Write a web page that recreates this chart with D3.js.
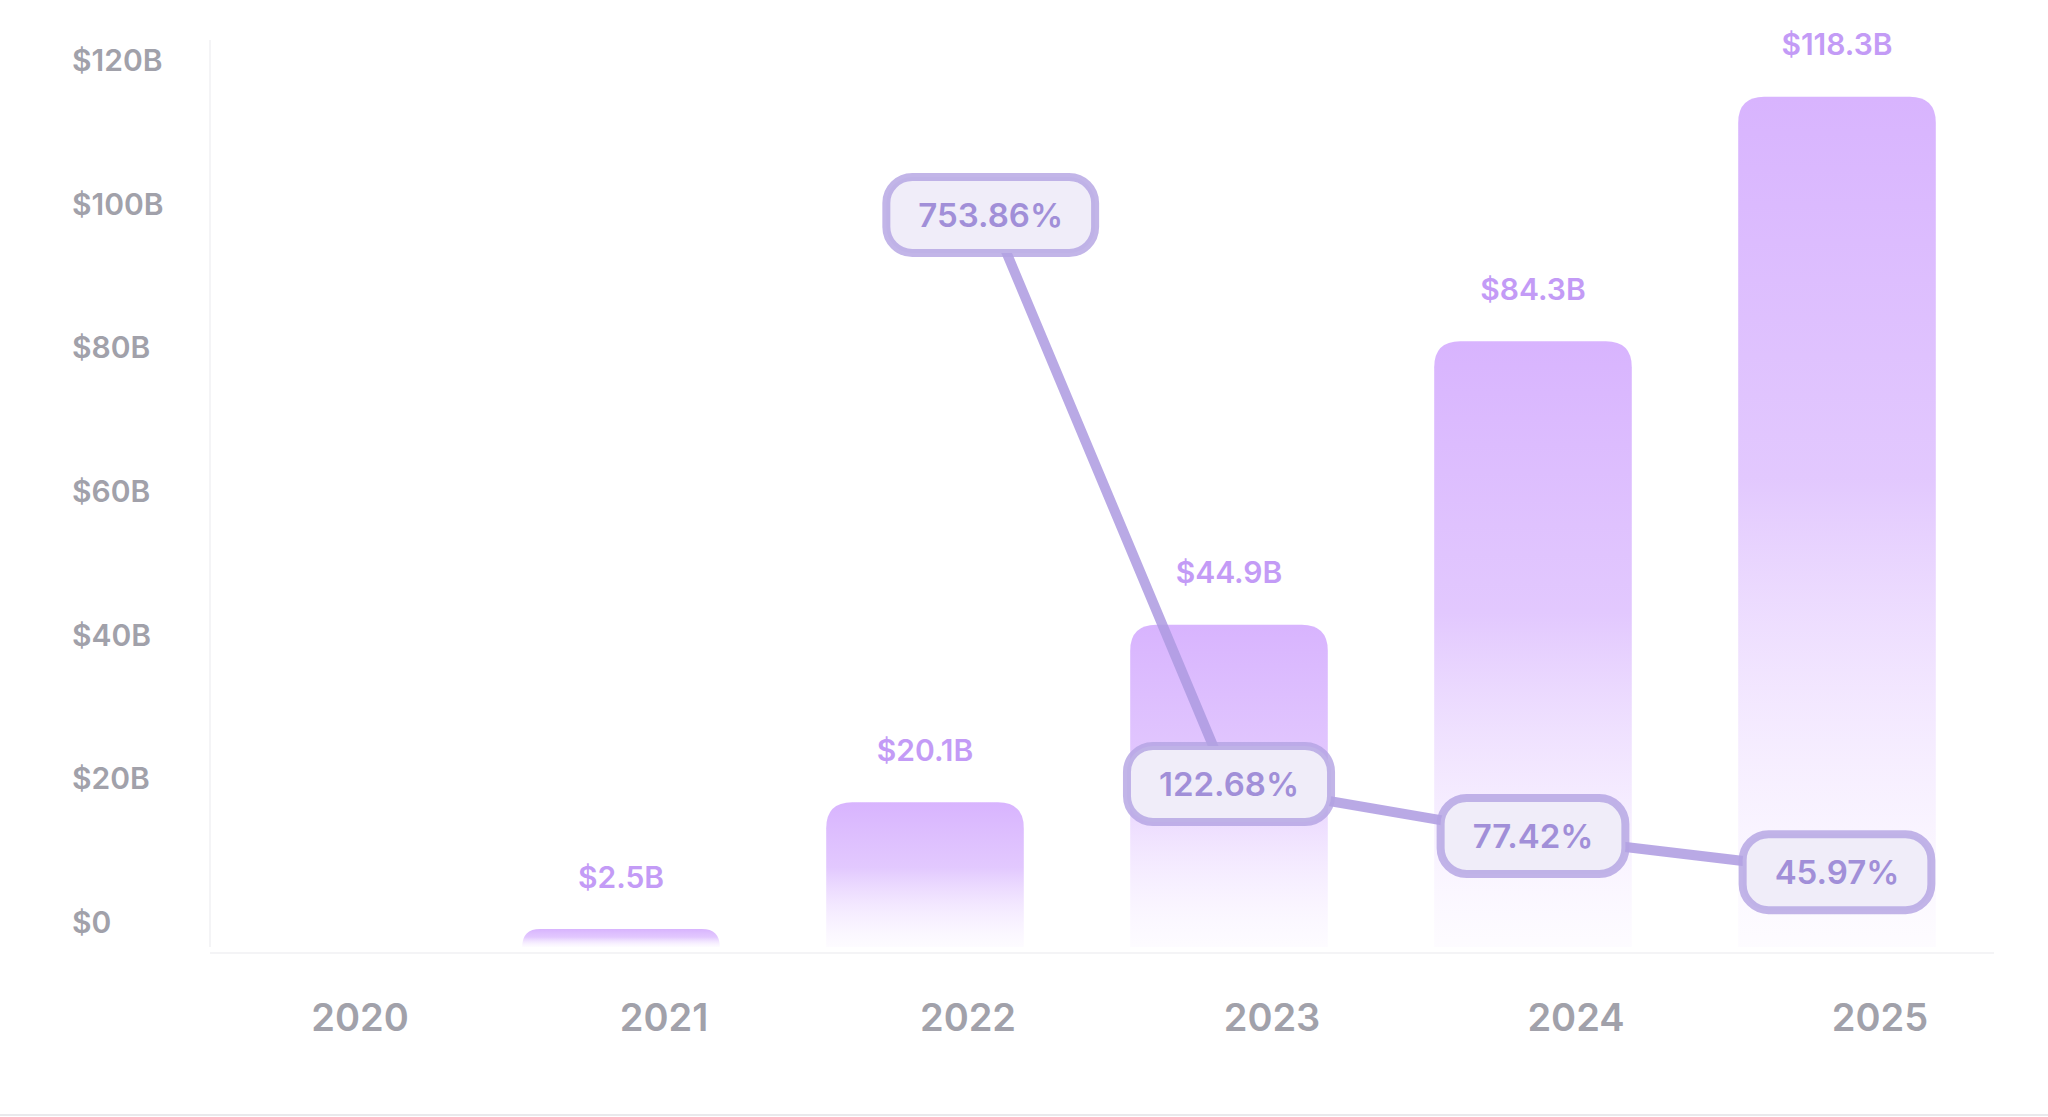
<!DOCTYPE html>
<html>
<head>
<meta charset="utf-8">
<script src="https://cdn.jsdelivr.net/npm/d3@7"></script>
<style>
  html, body { margin: 0; padding: 0; background: #ffffff; }
  svg { display: block; font-family: Inter, "Noto Sans", sans-serif; }
</style>
</head>
<body>
<div id="chart"></div>
<script>
// Data
const years = ["2020", "2021", "2022", "2023", "2024", "2025"]
const revenue = [0, 2.5, 20.15, 44.87, 84.31, 118.35]   // $B
const growth = [null, null, 753.86, 122.68, 77.42, 45.97] // % YoY
const yTicks = [0, 20, 40, 60, 80, 100, 120]

const width = 2048
const height = 1117

const svg = d3.select('#chart').append('svg')
  .attr('width', width)
  .attr('height', height)

// Scales
const x = d3.scaleBand()
  .domain(years)
  .range([165, 1989])
  .paddingInner(0.35)
  .paddingOuter(0.175)

const y = d3.scaleLinear()
  .domain([0, 120])
  .range([947, 85])

const g = d3.scaleLinear()
  .domain([0, 800])
  .range([925, 5])

const labelCeiling = 215

// gradient for bars
const defs = svg.append('defs')
const grad = defs.append('linearGradient')
  .attr('id', 'barGrad')
  .attr('x1', 0).attr('y1', 0).attr('x2', 0).attr('y2', 1)
grad.append('stop').attr('offset', '0%').attr('stop-color', '#d8b4fe').attr('stop-opacity', 1)
grad.append('stop').attr('offset', '45%').attr('stop-color', '#dfc2fe').attr('stop-opacity', 0.9)
grad.append('stop').attr('offset', '100%').attr('stop-color', '#f3e8ff').attr('stop-opacity', 0.15)

// faint frame lines
svg.append('line')
  .attr('x1', 210).attr('x2', 210)
  .attr('y1', 40).attr('y2', y(0))
  .attr('stroke', '#f4f4f6').attr('stroke-width', 2)
svg.append('line')
  .attr('x1', 210).attr('x2', 1994)
  .attr('y1', y(0) + 6).attr('y2', y(0) + 6)
  .attr('stroke', '#f4f4f6').attr('stroke-width', 2)
svg.append('line')
  .attr('x1', 0).attr('x2', width)
  .attr('y1', height - 2).attr('y2', height - 2)
  .attr('stroke', '#e9e9ec').attr('stroke-width', 2)

// Y axis
const yAxis = svg.append('g')
  .attr('transform', 'translate(72,-24)')
  .call(d3.axisLeft(y).tickValues(yTicks).tickSize(0)
    .tickFormat(d => d === 0 ? '$0' : `$${d}B`))
yAxis.select('.domain').remove()
yAxis.selectAll('text')
  .attr('x', 0)
  .attr('text-anchor', 'start')
  .attr('fill', '#a1a1aa')
  .style('font-size', '30px')
  .style('font-weight', 600)
  .style('font-family', 'Inter, sans-serif')

// X axis
const xAxis = svg.append('g')
  .attr('transform', 'translate(43,1018)')
  .call(d3.axisBottom(x).tickSize(0))
xAxis.select('.domain').remove()
xAxis.selectAll('text')
  .attr('y', 0)
  .attr('dy', '0.35em')
  .attr('fill', '#a1a1aa')
  .style('font-size', '38px')
  .style('font-weight', 600)
  .style('font-family', 'Inter, sans-serif')

// Bars
const barData = years.map((yr, i) => ({ year: yr, value: revenue[i] })).filter(d => d.value > 0)

function topRounded(x0, y0, w, h, r) {
  r = Math.min(r, h, w / 2)
  return `M${x0},${y0 + h}V${y0 + r}Q${x0},${y0} ${x0 + r},${y0}` +
    `H${x0 + w - r}Q${x0 + w},${y0} ${x0 + w},${y0 + r}V${y0 + h}Z`
}

svg.append('g')
  .selectAll('path')
  .data(barData)
  .enter()
  .append('path')
  .attr('d', d => topRounded(x(d.year), y(d.value), x.bandwidth(), y(0) - y(d.value), 26))
  .attr('fill', 'url(#barGrad)')

// Bar value labels
svg.append('g')
  .selectAll('text')
  .data(barData)
  .enter()
  .append('text')
  .attr('x', d => x(d.year) + x.bandwidth() / 2)
  .attr('y', d => y(d.value) - 52)
  .attr('dy', '0.35em')
  .attr('text-anchor', 'middle')
  .attr('fill', '#c39bf6')
  .style('font-size', '30px')
  .style('font-weight', 600)
  .text(d => `$${d3.format('.1f')(d.value)}B`)

// Growth line
const gPts = years.map((yr, i) => ({
  year: yr, value: growth[i],
  px: x(yr) + x.bandwidth() / 2,
  py: growth[i] == null ? null : g(growth[i])
})).filter(d => d.value != null)

// points above the ceiling slide along their segment down to it
gPts.forEach((d, i) => {
  if (d.py < labelCeiling) {
    const n = gPts[i + 1] || gPts[i - 1]
    const t = (labelCeiling - d.py) / (n.py - d.py)
    d.px = d.px + t * (n.px - d.px)
    d.py = labelCeiling
  }
})

svg.append('path')
  .datum(gPts)
  .attr('d', d3.line().x(d => d.px).y(d => d.py))
  .attr('fill', 'none')
  .attr('stroke', '#ad9ae0')
  .attr('stroke-opacity', 0.85)
  .attr('stroke-width', 10)

// Growth labels
const tags = svg.append('g')
  .selectAll('g')
  .data(gPts)
  .enter()
  .append('g')
  .attr('transform', d => `translate(${d.px},${d.py})`)

const tagRect = tags.append('rect')
const tagText = tags.append('text')
  .attr('text-anchor', 'middle')
  .attr('dy', '0.36em')
  .attr('fill', '#a18fd8')
  .style('font-size', '33px')
  .style('font-weight', 600)
  .text(d => `${d3.format('.2f')(d.value)}%`)

tagText.each(function (d) { d.tw = this.getComputedTextLength() })

tagRect
  .attr('x', d => -(d.tw / 2 + 32))
  .attr('y', -38)
  .attr('width', d => d.tw + 64)
  .attr('height', 76)
  .attr('rx', 26)
  .attr('fill', '#f0edf9')
  .attr('stroke', '#b3a3e2')
  .attr('stroke-opacity', 0.8)
  .attr('stroke-width', 8)
</script>
</body>
</html>
